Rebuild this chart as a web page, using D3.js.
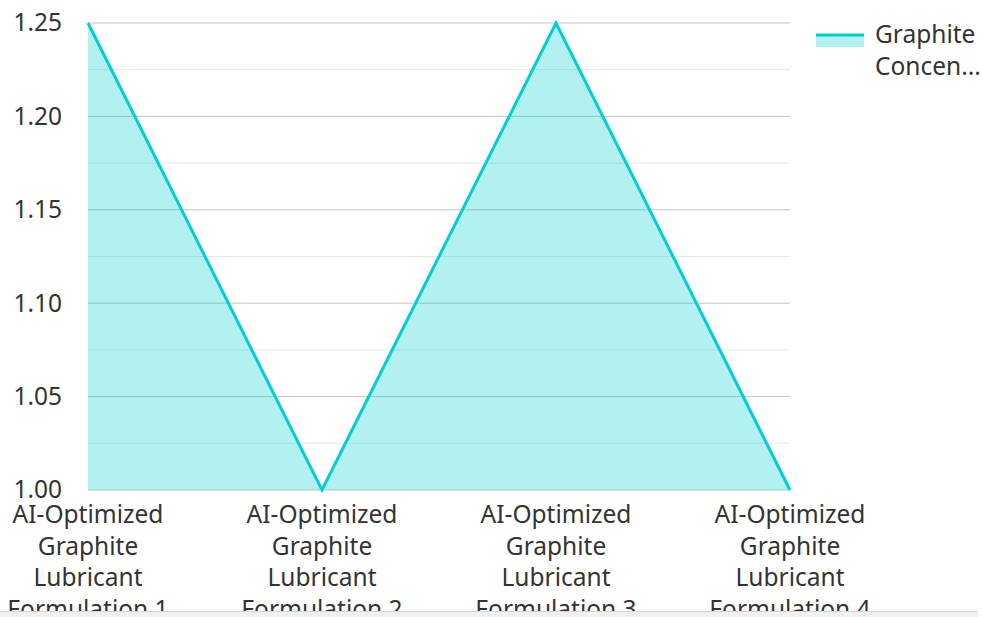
<!DOCTYPE html>
<html>
<head>
<meta charset="utf-8">
<script src="https://cdn.jsdelivr.net/npm/d3@7"></script>
<style>
  html, body { margin: 0; padding: 0; background: #fff; }
  svg { display: block; font-family: "Noto Sans", "Open Sans", sans-serif; }
</style>
</head>
<body>
<svg id="chart" width="982" height="617"></svg>
<script>
const categories = [
  "AI-Optimized Graphite Lubricant Formulation 1",
  "AI-Optimized Graphite Lubricant Formulation 2",
  "AI-Optimized Graphite Lubricant Formulation 3",
  "AI-Optimized Graphite Lubricant Formulation 4"
];
const seriesName = "Graphite Concentration";
const values = [1.25, 1.00, 1.25, 1.00];
const yTicks = [1.00, 1.05, 1.10, 1.15, 1.20, 1.25];
const yMinor = [1.025, 1.075, 1.125, 1.175, 1.225];

(function () {
const svg = d3.select("#chart");
const W = 982, H = 617;
const mLeft = 88, mRight = 790, mTop = 23, mBottom = 490;
const FS = 24.5;

const x = d3.scalePoint().domain(categories).range([mLeft, mRight]);
const y = d3.scaleLinear().domain([1.00, 1.25]).range([mBottom, mTop]);

svg.append("defs").append("clipPath").attr("id", "vis")
  .append("rect").attr("x", 0).attr("y", 0).attr("width", W).attr("height", 611);

const g = svg.append("g").attr("clip-path", "url(#vis)");

// minor grid
g.append("g").selectAll("line").data(yMinor).join("line")
  .attr("x1", mLeft).attr("x2", mRight)
  .attr("y1", d => y(d)).attr("y2", d => y(d))
  .attr("stroke", "#e6e6e6").attr("stroke-width", 1);

// major grid
g.append("g").selectAll("line").data(yTicks).join("line")
  .attr("x1", mLeft).attr("x2", mRight)
  .attr("y1", d => y(d)).attr("y2", d => y(d))
  .attr("stroke", "#c4c4c4").attr("stroke-width", 1);

// area
const area = d3.area()
  .x((d, i) => x(categories[i]))
  .y0(y(1.00))
  .y1(d => y(d));
g.append("path").datum(values)
  .attr("d", area)
  .attr("fill", "#00ced1").attr("fill-opacity", 0.3);

// line
const line = d3.line().x((d, i) => x(categories[i])).y(d => y(d));
g.append("path").datum(values)
  .attr("d", line)
  .attr("fill", "none").attr("stroke", "#00ced1").attr("stroke-width", 3)
  .attr("stroke-linejoin", "miter");

// y axis labels
const yAxis = d3.axisLeft(y).tickValues(yTicks).tickFormat(d3.format(".2f")).tickSize(0).tickPadding(26);
const ya = g.append("g").attr("transform", `translate(${mLeft},0)`).call(yAxis);
ya.select(".domain").remove();
ya.selectAll("text").attr("font-size", FS).attr("fill", "#333")
  .attr("font-family", "'Noto Sans', 'Open Sans', sans-serif");

// x labels, wrapped
const xl = g.append("g");
categories.forEach(c => {
  const words = c.split(" ");
  const lines = [words[0], words[1], words[2], words.slice(3).join(" ")];
  const t = xl.append("text")
    .attr("x", x(c)).attr("y", 516)
    .attr("text-anchor", "middle").attr("font-size", FS).attr("fill", "#333")
    .attr("dominant-baseline", "middle");
  lines.forEach((l, i) => {
    t.append("tspan").attr("x", x(c)).attr("dy", i === 0 ? 0 : 31.7).text(l);
  });
});

// legend
const lg = svg.append("g");
lg.append("rect").attr("x", 816).attr("y", 35).attr("width", 48).attr("height", 12)
  .attr("fill", "#00ced1").attr("fill-opacity", 0.3);
lg.append("line").attr("x1", 816).attr("x2", 864).attr("y1", 35).attr("y2", 35)
  .attr("stroke", "#00ced1").attr("stroke-width", 3);
const lt = lg.append("text").attr("x", 875).attr("y", 36)
  .attr("font-size", FS).attr("fill", "#333").attr("dominant-baseline", "middle");
lt.append("tspan").attr("x", 875).attr("dy", 0).text("Graphite");
lt.append("tspan").attr("x", 875).attr("dy", 32).text("Concen...");

// bottom band
svg.append("rect").attr("x", 0).attr("y", 611).attr("width", 978).attr("height", 6).attr("fill", "#f0f0f0");
svg.append("line").attr("x1", 0).attr("x2", 978).attr("y1", 611.5).attr("y2", 611.5)
  .attr("stroke", "#d6d6d6").attr("stroke-width", 1);
})();
</script>
</body>
</html>
